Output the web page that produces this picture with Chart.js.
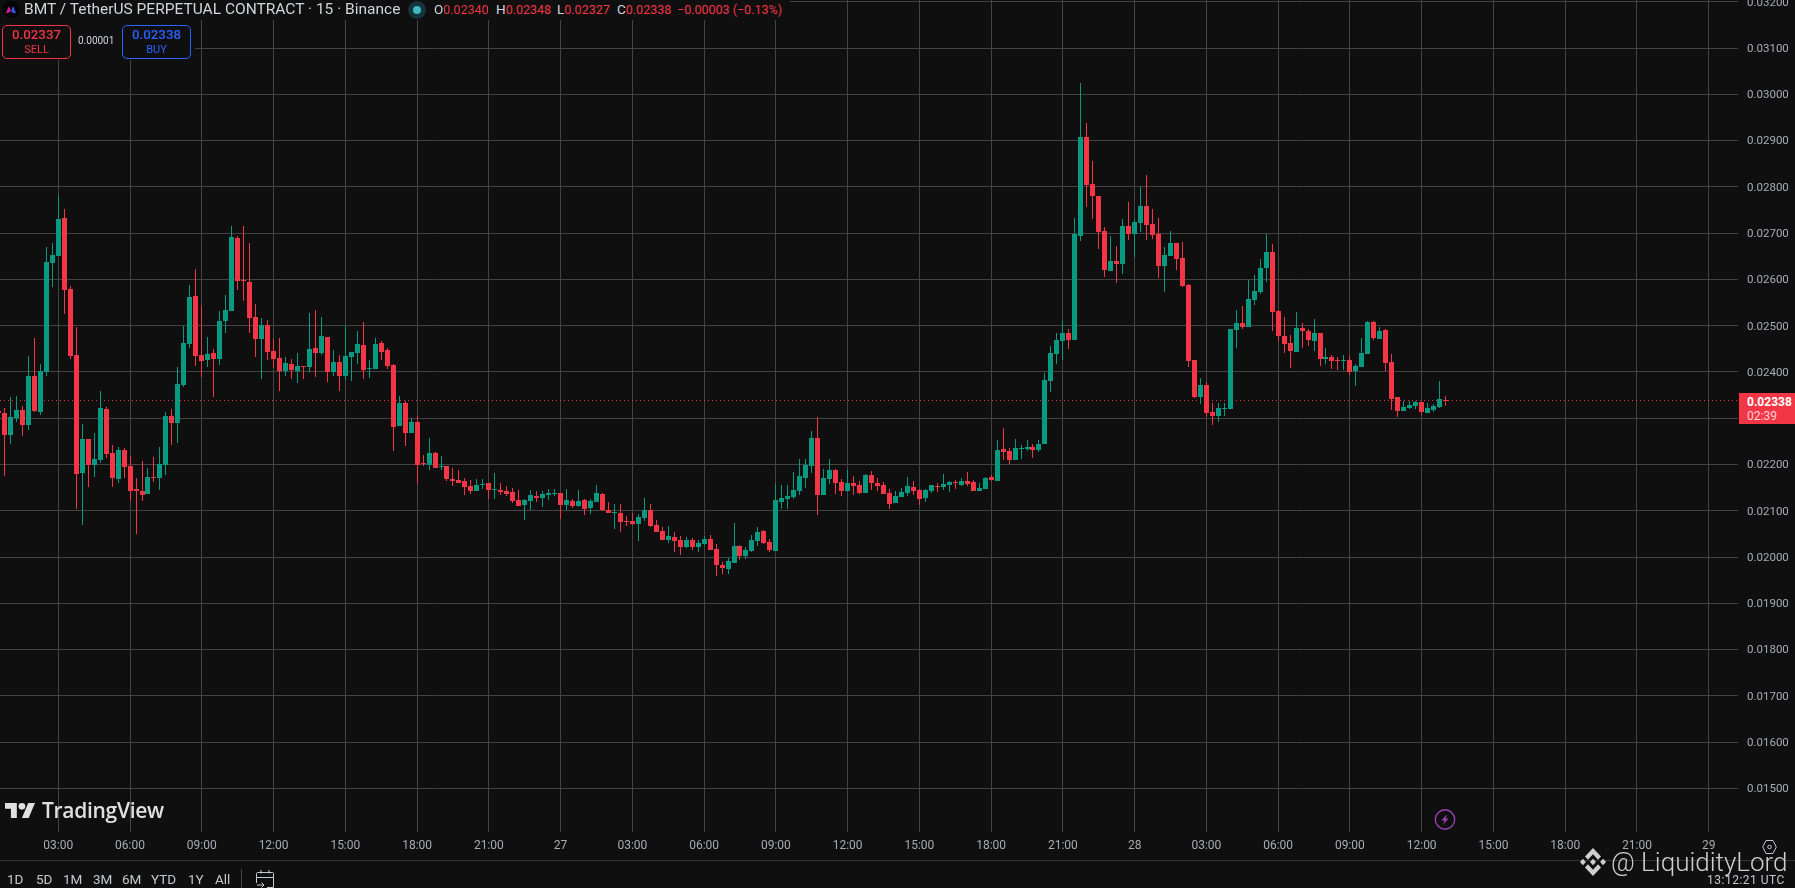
<!DOCTYPE html>
<html>
<head>
<meta charset="utf-8">
<title>BMT / TetherUS</title>
<script src="https://cdn.jsdelivr.net/npm/chart.js@4/dist/chart.umd.min.js"></script>
<style>
  html, body { margin: 0; padding: 0; background: #0f0f0f; }
  #wrap { position: relative; width: 1795px; height: 888px; overflow: hidden; font-family: Roboto, sans-serif; }
  #chart { position: absolute; left: 0; top: 0; }
  .t { position: absolute; white-space: nowrap; line-height: 1; }
  .red { color: #f23645; font-size: 12.5px; }
  .ohlc { font-size: 13.5px; top: 3px; color: #d1d4dc; }
  .range { font-size: 13.5px; top: 873px; color: #c4c7cf; }
</style>
</head>
<body>
<div id="wrap">
  <canvas id="chart" width="1795" height="888"></canvas>

  <div style="position:absolute;left:0;top:0;width:790px;height:20px;background:#0f0f0f"></div>
  <div style="position:absolute;left:0;top:20px;width:195px;height:40px;background:#0f0f0f"></div>
  <svg style="position:absolute;left:2px;top:0" width="18" height="19" viewBox="0 0 18 19">
    <circle cx="9" cy="9.5" r="8.5" fill="#050505"/>
    <path d="M4 13 L7 6 L9 11 L6 13z" fill="#d81b8c"/>
    <path d="M9 11 L11 6 L14 13 L11 13z" fill="#3b4ff0"/>
  </svg>
  <div class="t" style="left:24px;top:2px;font-size:15.5px;color:#d1d4dc">BMT / TetherUS PERPETUAL CONTRACT · 15 · Binance</div>
  <svg style="position:absolute;left:408px;top:1px" width="18" height="18">
    <circle cx="9" cy="9" r="9" fill="#12343a"/>
    <circle cx="9" cy="9" r="4" fill="#3fb6c0"/>
  </svg>
  <div class="t ohlc" style="left:434px">O<span class="red">0.02340</span></div>
  <div class="t ohlc" style="left:496px">H<span class="red">0.02348</span></div>
  <div class="t ohlc" style="left:557px">L<span class="red">0.02327</span></div>
  <div class="t ohlc" style="left:617px">C<span class="red">0.02338</span></div>
  <div class="t red" style="left:677px;top:4px">−0.00003 (−0.13%)</div>

  <div style="position:absolute;left:2px;top:25px;width:67px;height:32px;border:1px solid #f23645;border-radius:5px"></div>
  <div class="t" style="left:2px;width:69px;text-align:center;top:28px;font-size:13.3px;font-weight:500;color:#f23645">0.02337</div>
  <div class="t" style="left:2px;width:69px;text-align:center;top:44px;font-size:11px;color:#f23645">SELL</div>
  <div class="t" style="left:78px;top:36px;font-size:10px;color:#d1d4dc">0.00001</div>
  <div style="position:absolute;left:122px;top:25px;width:67px;height:32px;border:1px solid #2962ff;border-radius:5px"></div>
  <div class="t" style="left:122px;width:69px;text-align:center;top:28px;font-size:13.3px;font-weight:500;color:#2962ff">0.02338</div>
  <div class="t" style="left:122px;width:69px;text-align:center;top:44px;font-size:11px;color:#2962ff">BUY</div>

  <div style="position:absolute;left:1739px;top:393px;width:56px;height:31px;background:#f23645"></div>
  <div class="t" style="left:1747px;top:396px;font-size:12px;font-weight:700;color:#fff">0.02338</div>
  <div class="t" style="left:1747px;top:410px;font-size:12px;color:#fcd3d7">02:39</div>

  <svg style="position:absolute;left:5px;top:803px" width="30" height="15" viewBox="0 4 35.5 18" preserveAspectRatio="none">
    <path d="M14 22H7V11H0V4h14v18zM28 22h-8l7.5-18h8L28 22z" fill="#e0e0e0"/>
    <circle cx="20" cy="8" r="4" fill="#e0e0e0"/>
  </svg>
  <div class="t" style="left:42px;top:800px;font-size:21px;font-weight:600;color:#e0e0e0;font-family:'Open Sans',sans-serif;letter-spacing:-0.3px">TradingView</div>

  <svg style="position:absolute;left:1434px;top:808px" width="22" height="23" viewBox="0 0 22 23">
    <ellipse cx="11" cy="11.5" rx="9.7" ry="9.7" fill="none" stroke="#9c3fb8" stroke-width="1.4"/>
    <path d="M13 6 L7.5 12.5 H10.5 L9 17 L14.5 10.5 H11.5z" fill="#9c3fb8"/>
  </svg>

  <div style="position:absolute;left:0;top:860px;width:1795px;height:1px;background:#333"></div>
  <div class="t range" style="left:7px">1D</div>
  <div class="t range" style="left:36px">5D</div>
  <div class="t range" style="left:63px">1M</div>
  <div class="t range" style="left:93px">3M</div>
  <div class="t range" style="left:122px">6M</div>
  <div class="t range" style="left:151px">YTD</div>
  <div class="t range" style="left:188px">1Y</div>
  <div class="t range" style="left:215px">All</div>
  <div style="position:absolute;left:241px;top:869px;width:1px;height:19px;background:#444"></div>
  <svg style="position:absolute;left:255px;top:869px" width="20" height="19" viewBox="0 0 20 19" fill="none" stroke="#c4c7cf" stroke-width="1">
    <path d="M6 4.5V1M14 4.5V1M1.5 14V4.5a1 1 0 0 1 1-1h15a1 1 0 0 1 1 1v14M1.5 8.5h17M2 16h7M6.500 13.500 9 16 6.500 18.500M12 18.500h6.500"/>
  </svg>

  <svg style="position:absolute;left:1762px;top:839px" width="15" height="16" viewBox="0 0 15 16" fill="none" stroke="#c4c7cf" stroke-width="1">
    <path d="M4 1.500h7l3.300 6.500-3.300 6.500H4L0.700 8z"/>
    <circle cx="7.500" cy="8" r="1.800"/>
  </svg>

  <svg style="position:absolute;left:1580px;top:848px" width="26" height="28" viewBox="0 0 126.61 126.61" preserveAspectRatio="none">
    <path fill="#cfcfcf" d="M38.730 53.200l24.590-24.580 24.600 24.600 14.300-14.310L63.320 0 24.420 38.900l14.310 14.300zM0 63.310l14.300-14.310 14.310 14.310-14.310 14.300zM38.730 73.410l24.590 24.590 24.600-24.600 14.310 14.290-38.900 38.910-38.910-38.880-.02-.02zM98 63.310l14.300-14.310 14.310 14.300-14.310 14.320zM77.830 63.300L63.320 48.780 48.810 63.280l14.510 14.500 14.510-14.470z"/>
  </svg>
  <div class="t" style="left:1611px;top:849px;font-size:26px;color:#cfcfcf;font-weight:300">@ LiquidityLord</div>
  <div class="t" style="left:1707px;top:874px;font-size:12px;color:#c4c7cf;letter-spacing:0.5px">13:12:21 UTC</div>
</div>

<script>
// prices in ticks, one tick = 0.00001
var tickSize = 0.00001;
var lastPrice = 0.02338;

var opens = [
  2315,2312,2264,2301,2318,2286,2392,2314,2400,2636,
  2651,2733,2580,2437,2182,2256,2199,2210,2320,2225,
  2169,2232,2197,2147,2143,2137,2173,2171,2199,2305,
  2290,2372,2461,2565,2437,2426,2441,2428,2510,2532,
  2690,2599,2595,2519,2472,2502,2446,2431,2402,2418,
  2402,2413,2411,2452,2441,2476,2400,2422,2392,2433,
  2441,2459,2407,2407,2463,2448,2415,2283,2333,2268,
  2292,2204,2199,2225,2195,2197,2169,2167,2165,2154,
  2143,2156,2160,2145,2145,2143,2141,2123,2113,2121,
  2132,2128,2134,2136,2139,2113,2121,2110,2123,2106,
  2119,2136,2102,2095,2095,2078,2078,2072,2085,2102,
  2069,2056,2037,2043,2037,2022,2037,2022,2028,2039,
  2018,1983,1974,1987,2024,2002,2013,2035,2056,2033,
  2013,2119,2126,2130,2143,2171,2197,2257,2134,2169,
  2188,2162,2143,2160,2156,2139,2178,2160,2156,2139,
  2117,2130,2139,2152,2145,2128,2143,2154,2152,2156,
  2163,2156,2165,2162,2143,2147,2173,2165,2234,2229,
  2210,2234,2234,2238,2232,2244,2380,2439,2467,2484,
  2469,2694,2908,2806,2780,2705,2618,2640,2633,2715,
  2698,2722,2759,2720,2698,2629,2651,2679,2646,2588,
  2426,2346,2372,2313,2305,2320,2320,2491,2506,2497,
  2556,2573,2625,2660,2532,2478,2463,2443,2495,2489,
  2467,2485,2428,2433,2426,2424,2426,2402,2411,2439,
  2508,2472,2491,2422,2346,2316,2322,2327,2335,2312,
  2318,2325,2340
];
var highs = [
  2315,2322,2345,2348,2327,2435,2474,2418,2671,2679,
  2783,2753,2586,2498,2288,2256,2268,2359,2325,2243,
  2238,2236,2219,2171,2208,2193,2217,2238,2314,2320,
  2411,2500,2588,2623,2545,2476,2450,2532,2567,2716,
  2694,2716,2679,2547,2517,2513,2472,2474,2433,2428,
  2441,2413,2528,2534,2519,2476,2448,2437,2500,2444,
  2489,2508,2426,2474,2467,2452,2418,2348,2338,2301,
  2305,2221,2258,2227,2219,2197,2193,2188,2171,2167,
  2169,2169,2160,2182,2160,2154,2149,2145,2126,2145,
  2143,2143,2147,2147,2139,2147,2126,2145,2126,2126,
  2156,2139,2119,2115,2115,2089,2095,2093,2128,2115,
  2080,2065,2067,2054,2046,2043,2041,2037,2046,2048,
  2028,1989,1998,2074,2026,2022,2048,2065,2059,2039,
  2160,2156,2156,2184,2212,2212,2273,2303,2190,2212,
  2190,2169,2188,2175,2165,2180,2186,2171,2162,2147,
  2143,2149,2173,2165,2147,2147,2156,2160,2180,2165,
  2167,2171,2184,2167,2160,2173,2177,2253,2279,2236,
  2255,2242,2253,2245,2253,2398,2456,2484,2510,2493,
  2733,3025,2938,2856,2780,2713,2694,2672,2730,2767,
  2730,2800,2826,2752,2733,2670,2705,2679,2681,2590,
  2426,2387,2378,2333,2333,2333,2493,2534,2543,2599,
  2610,2644,2699,2677,2534,2519,2480,2530,2506,2493,
  2515,2485,2452,2437,2433,2437,2435,2417,2474,2510,
  2510,2497,2493,2439,2346,2338,2338,2338,2335,2333,
  2331,2381,2348
];
var lows = [
  2311,2174,2245,2292,2262,2275,2314,2307,2392,2584,
  2651,2526,2428,2104,2070,2152,2173,2204,2214,2152,
  2160,2171,2121,2050,2121,2137,2163,2145,2178,2243,
  2247,2368,2452,2413,2390,2411,2346,2415,2485,2532,
  2578,2554,2485,2433,2385,2426,2409,2359,2392,2385,
  2376,2385,2400,2390,2437,2379,2392,2359,2383,2381,
  2418,2385,2387,2407,2426,2407,2230,2283,2240,2268,
  2158,2197,2188,2193,2188,2165,2154,2160,2134,2136,
  2143,2147,2126,2126,2134,2132,2117,2110,2080,2102,
  2119,2108,2123,2132,2082,2102,2106,2108,2091,2093,
  2119,2100,2095,2061,2054,2067,2069,2035,2078,2065,
  2054,2037,2031,2011,2005,2020,2015,2011,2026,2015,
  1959,1964,1964,1987,1994,1996,2011,2024,2028,2011,
  2013,2104,2104,2126,2134,2149,2182,2091,2134,2158,
  2136,2132,2141,2134,2136,2139,2145,2143,2136,2104,
  2117,2130,2132,2134,2113,2119,2139,2141,2145,2141,
  2147,2154,2154,2143,2143,2147,2165,2165,2210,2201,
  2210,2212,2229,2214,2227,2244,2357,2417,2426,2450,
  2469,2683,2756,2731,2666,2605,2618,2592,2612,2685,
  2648,2702,2685,2687,2603,2573,2651,2620,2584,2411,
  2344,2331,2303,2285,2292,2305,2320,2452,2493,2497,
  2545,2569,2595,2489,2467,2441,2409,2443,2452,2456,
  2446,2413,2417,2407,2405,2405,2394,2370,2411,2439,
  2469,2472,2402,2318,2303,2316,2320,2320,2307,2312,
  2314,2322,2327
];
var closes = [
  2311,2264,2303,2318,2286,2392,2316,2403,2638,2653,
  2731,2578,2435,2180,2256,2199,2212,2323,2223,2171,
  2232,2195,2143,2143,2134,2173,2171,2201,2305,2290,
  2374,2463,2562,2435,2424,2439,2428,2510,2534,2692,
  2597,2597,2517,2472,2502,2444,2428,2402,2420,2405,
  2413,2411,2450,2441,2478,2400,2422,2392,2435,2444,
  2461,2405,2409,2461,2444,2413,2281,2333,2268,2292,
  2199,2201,2225,2193,2197,2169,2165,2160,2152,2143,
  2156,2158,2145,2147,2141,2136,2121,2110,2123,2134,
  2128,2136,2139,2138,2113,2123,2110,2121,2104,2121,
  2139,2102,2095,2098,2076,2076,2072,2087,2102,2067,
  2054,2037,2046,2035,2022,2037,2022,2030,2039,2015,
  1983,1976,1992,2024,2002,2015,2037,2054,2030,2015,
  2123,2128,2132,2145,2175,2199,2257,2134,2171,2188,
  2160,2143,2160,2154,2139,2178,2160,2154,2136,2115,
  2132,2141,2154,2143,2126,2145,2156,2152,2158,2162,
  2161,2165,2158,2143,2149,2171,2167,2232,2227,2210,
  2236,2236,2238,2232,2245,2383,2441,2469,2484,2469,
  2698,2908,2804,2780,2702,2620,2640,2633,2715,2698,
  2724,2759,2718,2696,2629,2653,2679,2644,2586,2424,
  2346,2372,2311,2305,2322,2322,2493,2506,2497,2558,
  2575,2625,2660,2530,2478,2461,2446,2495,2489,2469,
  2485,2428,2433,2424,2424,2426,2400,2413,2441,2508,
  2474,2489,2420,2342,2316,2325,2329,2335,2314,2322,
  2327,2342,2338
];
var priceTicks = [0.015,0.016,0.017,0.018,0.019,0.020,0.021,0.022,0.023,0.024,0.025,0.026,0.027,0.028,0.029,0.030,0.031,0.032];
var timeTickBars = [10,22,34,46,58,70,82,94,106,118,130,142,154,166,178,190,202,214,226,238,250,262,274,286];
var timeTickLabels = ['03:00','06:00','09:00','12:00','15:00','18:00','21:00','27','03:00','06:00','09:00','12:00','15:00','18:00','21:00','28','03:00','06:00','09:00','12:00','15:00','18:00','21:00','29'];

var upColor = '#089981';
var downColor = '#f23645';
var gridColor = '#434343';
var labelColor = '#a8abb3';

var candleColors = closes.map(function(c, i) {
  return c >= opens[i] ? upColor : downColor;
});
var wicks = highs.map(function(h, i) {
  return { x: i, y: [lows[i] * tickSize, h * tickSize] };
});
var bodies = closes.map(function(c, i) {
  return { x: i, y: [Math.min(opens[i], c) * tickSize, Math.max(opens[i], c) * tickSize] };
});

var barMin = 0.25, barMax = 290.9;

// keep candles on whole pixels so they stay crisp like the original
var snapPlugin = {
  id: 'snap',
  afterDatasetsUpdate: function(chart) {
    [1, 2].forEach(function(d) {
      chart.getDatasetMeta(d).data.forEach(function(el) {
        el.x = Math.floor(el.x) + 0.5;
        el.y = Math.round(el.y);
        el.base = Math.round(el.base);
        if (el.base === el.y) el.base = el.y + 1;
      });
    });
    chart.getDatasetMeta(0).data.forEach(function(pt) {
      pt.y = Math.floor(pt.y) + 0.5;
    });
  }
};

new Chart(document.getElementById('chart'), {
  type: 'bar',
  plugins: [snapPlugin],
  data: {
    datasets: [{
      type: 'line',
      data: [{ x: barMin, y: lastPrice }, { x: barMax, y: lastPrice }],
      borderColor: downColor,
      borderWidth: 1,
      borderDash: [1, 3],
      pointRadius: 0,
      order: 3
    }, {
      data: wicks,
      backgroundColor: candleColors,
      barThickness: 1,
      grouped: false,
      inflateAmount: 0,
      order: 2
    }, {
      data: bodies,
      backgroundColor: candleColors,
      barThickness: 5,
      grouped: false,
      inflateAmount: 0,
      order: 1
    }]
  },
  options: {
    responsive: false,
    devicePixelRatio: 1,
    animation: false,
    layout: { padding: 0 },
    plugins: { legend: { display: false }, tooltip: { enabled: false } },
    scales: {
      x: {
        type: 'linear',
        min: barMin,
        max: barMax,
        offset: false,
        border: { display: false },
        grid: { color: gridColor, lineWidth: 1, drawTicks: false, offset: false },
        ticks: {
          color: labelColor,
          font: { family: 'Roboto', size: 12 },
          padding: 7,
          maxRotation: 0,
          autoSkip: false,
          callback: function(v, i) { return timeTickLabels[i]; }
        },
        afterBuildTicks: function(scale) {
          scale.ticks = timeTickBars.map(function(b) { return { value: b }; });
        },
        afterFit: function(scale) {
          scale.height = 56;
          scale.paddingLeft = 0;
          scale.paddingRight = 0;
        }
      },
      y: {
        type: 'linear',
        position: 'right',
        min: 0.014057,
        max: 0.032038,
        border: { display: false },
        grid: { color: gridColor, lineWidth: 1, drawTicks: false },
        ticks: {
          color: labelColor,
          font: { family: 'Roboto', size: 11.5 },
          padding: 9,
          labelOffset: 1,
          autoSkip: false,
          callback: function(v) { return v.toFixed(5); }
        },
        afterBuildTicks: function(scale) {
          scale.ticks = priceTicks.map(function(p) { return { value: p }; });
        },
        afterFit: function(scale) {
          scale.width = 57;
          scale.paddingTop = 0;
          scale.paddingBottom = 0;
        }
      }
    }
  }
});
</script>
</body>
</html>
